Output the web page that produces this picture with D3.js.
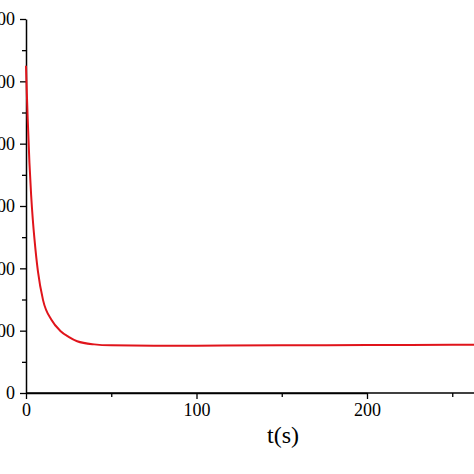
<!DOCTYPE html>
<html><head><meta charset="utf-8">
<script src="https://cdn.jsdelivr.net/npm/d3@7"></script>
<style>body{margin:0;background:#fff}svg{display:block}text{font-family:"Liberation Serif","DejaVu Serif",serif}</style>
</head><body>
<script>
var tValues = [0, 0.5, 1, 2, 3, 4, 5, 7, 10, 15, 20, 25, 30, 40, 50, 75, 100, 150, 200, 250, 280];
var yValues = [525, 480, 440, 370, 318, 278, 246, 195, 149, 117, 100, 90, 83, 78, 76.5, 76, 76, 76.5, 77, 77.3, 77.5];
var yTicks = [0, 100, 200, 300, 400, 500, 600];
var xTicks = [0, 100, 200];

var W = 474, H = 474;
var svg = d3.select('body').append('svg').attr('width', W).attr('height', H);
var x = d3.scaleLinear().domain([0, 200]).range([26, 367]);
var y = d3.scaleLinear().domain([0, 600]).range([393, 19]);

svg.append('g').attr('transform', 'translate(0,393)')
    .call(d3.axisBottom(x).tickValues(xTicks).tickSize(6).tickSizeOuter(0).tickPadding(4));
svg.append('g').attr('transform', 'translate(0,393)')
    .call(d3.axisBottom(x).tickValues([50, 150, 250]).tickSize(4).tickFormat(''))
    .select('.domain').remove();
svg.append('line').attr('x1', 26).attr('x2', W).attr('y1', 393).attr('y2', 393)
    .attr('stroke', '#000').attr('stroke-width', 1.5);

svg.append('g').attr('transform', 'translate(26,0)')
    .call(d3.axisLeft(y).tickValues(yTicks).tickSize(6).tickSizeOuter(0).tickPadding(5));
svg.append('g').attr('transform', 'translate(26,0)')
    .call(d3.axisLeft(y).tickValues([50, 150, 250, 350, 450, 550]).tickSize(4).tickFormat(''))
    .select('.domain').remove();

svg.selectAll('g').attr('font-family', null);
svg.selectAll('.domain').attr('stroke-width', 1.5);
svg.selectAll('.tick line').attr('stroke-width', 1.3);
svg.selectAll('.tick text').attr('font-size', 18).attr('fill', '#000');

svg.append('path').datum(d3.zip(tValues, yValues))
    .attr('fill', 'none').attr('stroke', '#e0141b').attr('stroke-width', 2)
    .attr('d', d3.line().x(function(d) { return x(d[0]); }).y(function(d) { return y(d[1]); }).curve(d3.curveMonotoneX));

svg.append('text').attr('x', 283).attr('y', 443).attr('text-anchor', 'middle')
    .attr('font-size', 24).text('t(s)');
</script>
</body></html>
